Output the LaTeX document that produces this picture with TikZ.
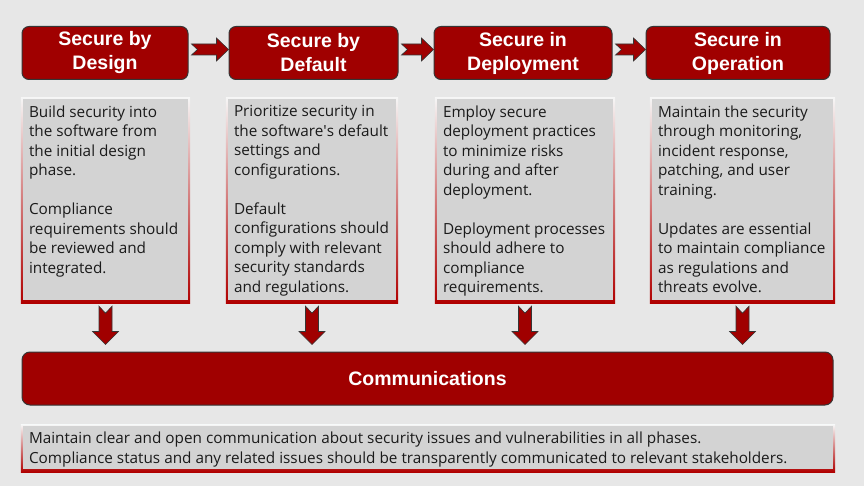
\documentclass[tikz,border=0pt]{standalone}
\usepackage{fontspec}
\setmainfont{Open Sans}
\newfontfamily\headfont{Liberation Sans}
\usetikzlibrary{calc,positioning}
\definecolor{bgc}{HTML}{E7E7E7}
\definecolor{hdred}{HTML}{A00000}
\definecolor{bred}{HTML}{B00000}
\definecolor{edgegray}{HTML}{353535}
\definecolor{panelgray}{HTML}{D3D3D3}
\definecolor{txt}{HTML}{1A1A1A}

\begin{document}
\begin{tikzpicture}[x=1pt,y=-1pt,
  head/.style={draw=edgegray, line width=1pt, fill=hdred, rounded corners=7pt, text=white,
    font=\headfont\bfseries\fontsize{19.5}{24}\selectfont, align=center,
    minimum height=53pt, inner sep=0pt},
  panel/.style={minimum height=205pt, inner sep=0pt},
  body/.style={anchor=north west, align=left, inner sep=0pt, text=txt,
    font=\fontsize{15.3}{19.5}\selectfont},
  chev/.style={fill=hdred, draw=edgegray, line width=0.6pt}]

\fill[bgc] (0,0) rectangle (864,486);
\useasboundingbox (0,0) rectangle (864,486);

% phase headers
\node[head, minimum width=166pt] (h1) at (105,53) {Secure by\\Design};
\node[head, minimum width=169pt] (h2) at (313.5,53) {Secure by\\Default};
\node[head, minimum width=178pt] (h3) at (523,53) {Secure in\\Deployment};
\node[head, minimum width=184pt] (h4) at (738,53) {Secure in\\Operation};

% panels under the headers
\node[panel, minimum width=169pt] (t1) at (105.5,200.5) {};
\node[panel, minimum width=172pt] (t2) at (312,200.5) {};
\node[panel, minimum width=180pt] (t3) at (525,200.5) {};
\node[panel, minimum width=185pt] (t4) at (742.5,200.5) {};
\node[panel, minimum width=814pt, minimum height=47pt] (bt) at (428,448.5) {};

\foreach \p in {t1,t2,t3,t4,bt}{
  \shade[top color=bgc!40!white, middle color=bred!60!bgc, bottom color=bred]
    (\p.north west) rectangle (\p.south east);
  \fill[panelgray] ($(\p.north west)+(2.5,1.5)$) rectangle ($(\p.south east)+(-2.5,-3.5)$);
}

\node[body] (t1x) at ($(t1.north west)+(8,7.5)$) {Build security into\\the software from\\the initial design\\phase.\\[19.5pt]Compliance\\requirements should\\be reviewed and\\integrated.};
\node[body] (t2x) at ($(t2.north west)+(8,7.5)$) {Prioritize security in\\the software\textquotesingle s default\\settings and\\configurations.\\[19.5pt]Default\\configurations should\\comply with relevant\\security standards\\and regulations.};
\node[body] (t3x) at ($(t3.north west)+(8,7.5)$) {Employ secure\\deployment practices\\to minimize risks\\during and after\\deployment.\\[19.5pt]Deployment processes\\should adhere to\\compliance\\requirements.};
\node[body] (t4x) at ($(t4.north west)+(8,7.5)$) {Maintain the security\\through monitoring,\\incident response,\\patching, and user\\training.\\[19.5pt]Updates are essential\\to maintain compliance\\as regulations and\\threats evolve.};

% communications bar
\node[head, minimum width=811pt, rounded corners=8pt] (comm) at (427.5,378.5) {Communications};
\node[body, font=\fontsize{15.3}{20}\selectfont] (btx) at ($(bt.north west)+(8,6.5)$) {Maintain clear and open communication about security issues and vulnerabilities in all phases.\\Compliance status and any related issues should be transparently communicated to relevant stakeholders.};

% arrows between headers
\draw[chev] ($(h1.east)+(3,-9)$) -- ++(6,5.5) -- ++(-6,5.5) -- ($(h2.west)+(-12,2)$) -- ++(0,6)
  -- ($(h2.west)+(0,-3.5)$) -- ($(h2.west)+(-12,-15)$) -- ++(0,6) -- cycle;
\draw[chev] ($(h2.east)+(3,-9)$) -- ++(6,5.5) -- ++(-6,5.5) -- ($(h3.west)+(-12,2)$) -- ++(0,6)
  -- ($(h3.west)+(0,-3.5)$) -- ($(h3.west)+(-12,-15)$) -- ++(0,6) -- cycle;
\draw[chev] ($(h3.east)+(3,-9)$) -- ++(6,5.5) -- ++(-6,5.5) -- ($(h4.west)+(-12,2)$) -- ++(0,6)
  -- ($(h4.west)+(0,-3.5)$) -- ($(h4.west)+(-12,-15)$) -- ++(0,6) -- cycle;

% arrows down to communications
\draw[chev] ($(t1.south)+(-6.5,3)$) -- ++(6.5,7) -- ++(6.5,-7) -- ($(t1.south |- comm.north)+(6.5,-20)$)
  -- ++(6.5,0) -- ($(t1.south |- comm.north)+(0,-7)$) -- ($(t1.south |- comm.north)+(-13,-20)$) -- ++(6.5,0) -- cycle;
\draw[chev] ($(t2.south)+(-6.5,3)$) -- ++(6.5,7) -- ++(6.5,-7) -- ($(t2.south |- comm.north)+(6.5,-20)$)
  -- ++(6.5,0) -- ($(t2.south |- comm.north)+(0,-7)$) -- ($(t2.south |- comm.north)+(-13,-20)$) -- ++(6.5,0) -- cycle;
\draw[chev] ($(t3.south)+(-6.5,3)$) -- ++(6.5,7) -- ++(6.5,-7) -- ($(t3.south |- comm.north)+(6.5,-20)$)
  -- ++(6.5,0) -- ($(t3.south |- comm.north)+(0,-7)$) -- ($(t3.south |- comm.north)+(-13,-20)$) -- ++(6.5,0) -- cycle;
\draw[chev] ($(t4.south)+(-6.5,3)$) -- ++(6.5,7) -- ++(6.5,-7) -- ($(t4.south |- comm.north)+(6.5,-20)$)
  -- ++(6.5,0) -- ($(t4.south |- comm.north)+(0,-7)$) -- ($(t4.south |- comm.north)+(-13,-20)$) -- ++(6.5,0) -- cycle;
\end{tikzpicture}
\end{document}
